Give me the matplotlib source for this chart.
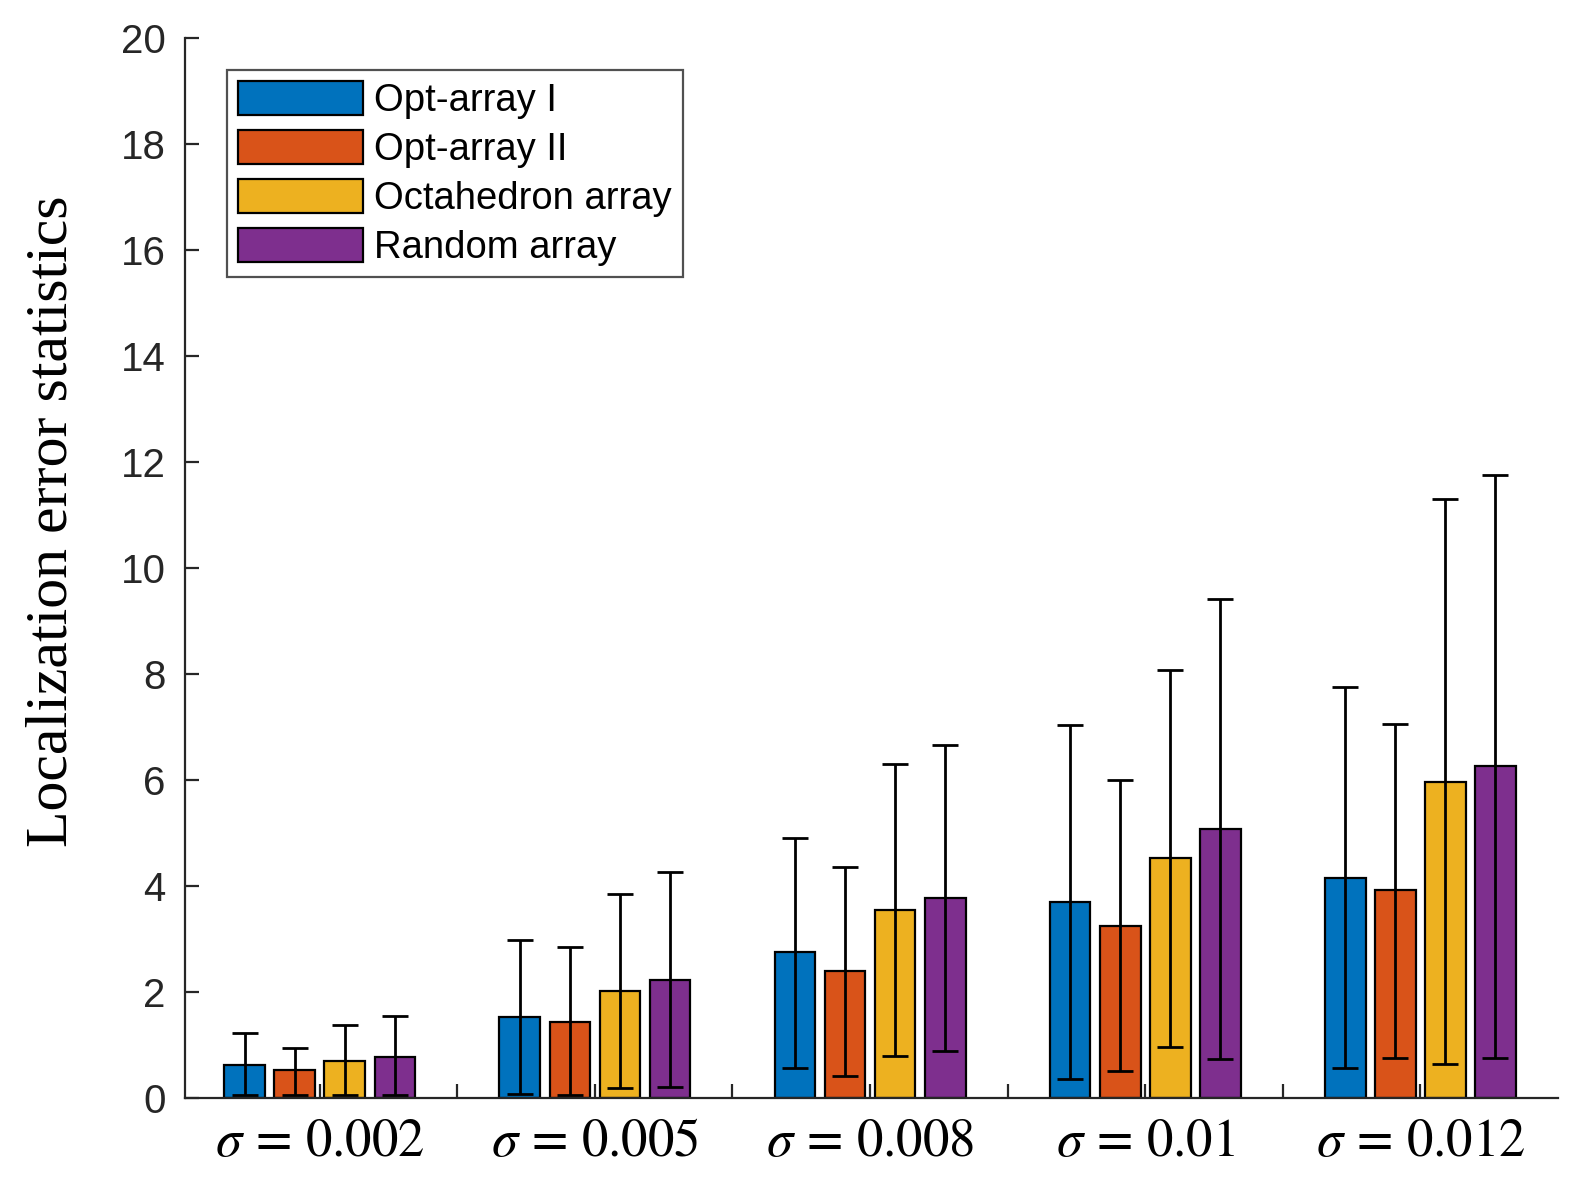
import numpy as np
import matplotlib.pyplot as plt
from matplotlib.ticker import FixedLocator

plt.rcParams['font.family'] = ['Liberation Sans', 'DejaVu Sans']
plt.rcParams['mathtext.fontset'] = 'stix'

groups = [r'$\sigma\,=\,0.002$', r'$\sigma\,=\,0.005$', r'$\sigma\,=\,0.008$',
          r'$\sigma\,=\,0.01$', r'$\sigma\,=\,0.012$']
series = ['Opt-array I', 'Opt-array II', 'Octahedron array', 'Random array']
colors = ['#0072BD', '#D95319', '#EDB120', '#7E2F8E']

# mean values
opt1 = [0.63, 1.53, 2.75, 3.70, 4.15]
opt2 = [0.52, 1.43, 2.39, 3.24, 3.92]
octa = [0.69, 2.02, 3.55, 4.52, 5.96]
rand = [0.78, 2.23, 3.78, 5.08, 6.26]

# error bar ends (lower, upper)
opt1_lo = [0.05, 0.08, 0.57, 0.36, 0.56]
opt1_hi = [1.22, 2.98, 4.90, 7.04, 7.75]
opt2_lo = [0.05, 0.05, 0.42, 0.50, 0.76]
opt2_hi = [0.94, 2.84, 4.35, 5.99, 7.06]
octa_lo = [0.05, 0.19, 0.80, 0.97, 0.64]
octa_hi = [1.37, 3.85, 6.30, 8.07, 11.30]
rand_lo = [0.05, 0.21, 0.88, 0.73, 0.76]
rand_hi = [1.55, 4.26, 6.66, 9.41, 11.76]

means = [opt1, opt2, octa, rand]
lows = [opt1_lo, opt2_lo, octa_lo, rand_lo]
highs = [opt1_hi, opt2_hi, octa_hi, rand_hi]

fig = plt.figure(figsize=(15.86, 11.92), dpi=100)
ax = fig.add_axes([0.1166, 0.0789, 0.8657, 0.8893])

x = np.arange(1, len(groups) + 1)
offsets = [-0.273, -0.091, 0.091, 0.273]
width = 0.148

for i in range(len(series)):
    m = np.array(means[i])
    lo = m - np.array(lows[i])
    hi = np.array(highs[i]) - m
    ax.bar(x + offsets[i], m, width, color=colors[i], edgecolor='black',
           linewidth=1.6, label=series[i], zorder=2)
    ax.errorbar(x + offsets[i], m, yerr=[lo, hi], fmt='none', ecolor='black',
                elinewidth=2.0, capsize=9.5, capthick=2.0, zorder=3)

ax.set_xlim(0.51, 5.5)
ax.set_ylim(0, 20)
ax.set_yticks(np.arange(0, 21, 2))
ax.set_xticks(x)
ax.set_xticklabels(groups, fontsize=38)
ax.xaxis.set_minor_locator(FixedLocator(x[:-1] + 0.5))

for s in ['top', 'right']:
    ax.spines[s].set_visible(False)
for s in ['left', 'bottom']:
    ax.spines[s].set_linewidth(1.6)
    ax.spines[s].set_color('#262626')

ax.tick_params(axis='both', which='both', direction='in', length=10,
               width=1.6, color='#262626')
ax.tick_params(axis='y', labelsize=29, labelcolor='#262626', pad=14)
ax.tick_params(axis='x', pad=14)

ax.set_ylabel('Localization error statistics', fontsize=43,
              family=['Liberation Serif', 'DejaVu Serif'])
ax.yaxis.set_label_coords(-0.077, 0.544)

leg = ax.legend(loc='upper left', bbox_to_anchor=(0.0306, 0.970),
                borderaxespad=0, fontsize=27.5, fancybox=False,
                edgecolor='#262626', handlelength=3.25, handleheight=1.0,
                labelspacing=0.28, handletextpad=0.3, borderpad=0.3)
leg.get_frame().set_linewidth(1.6)

fig.savefig('out.png', dpi=100)
